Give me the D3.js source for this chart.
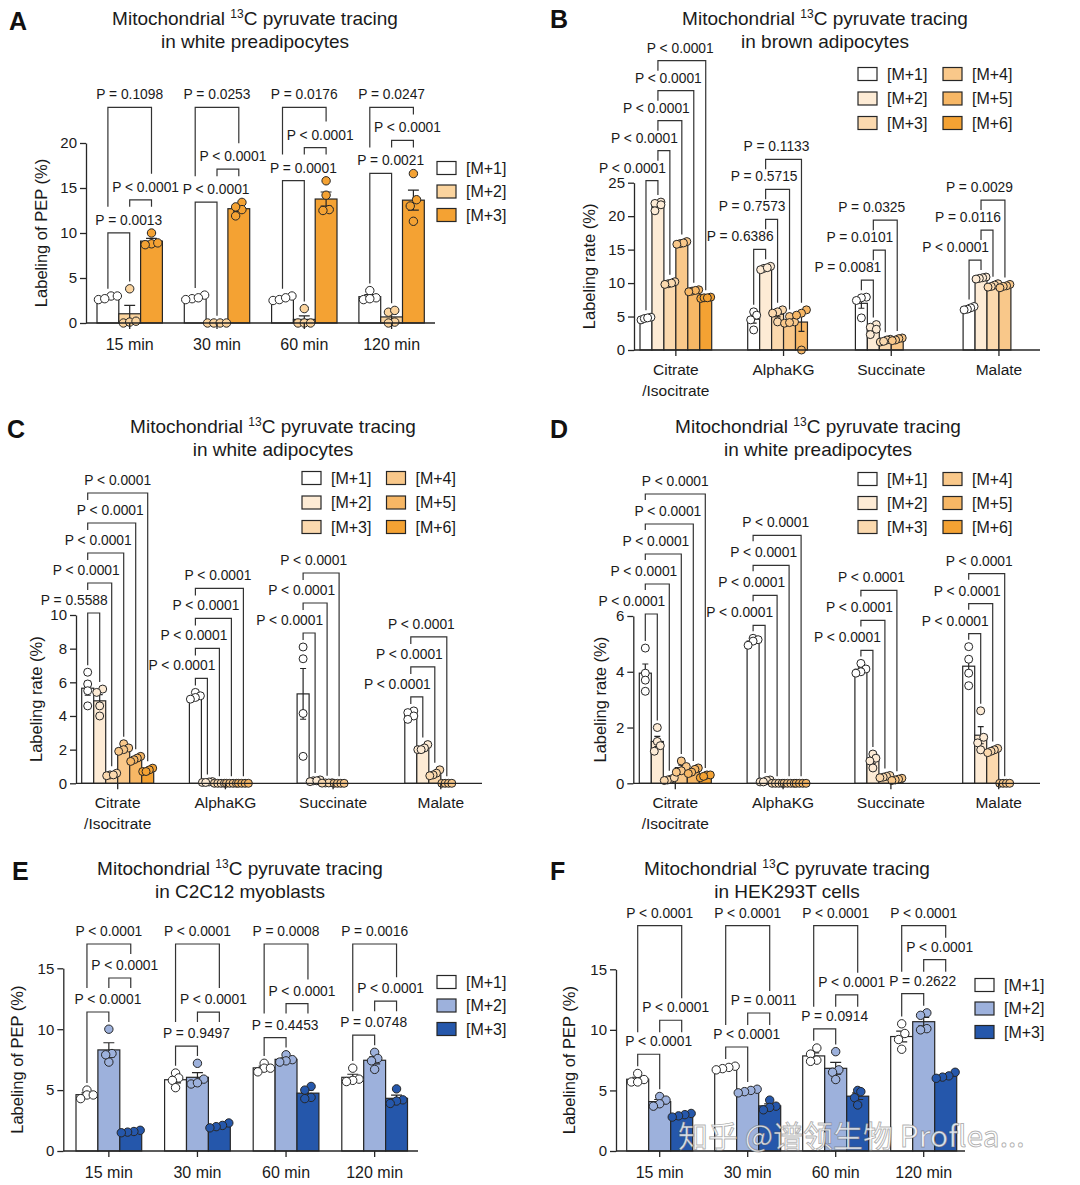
<!DOCTYPE html>
<html>
<head>
<meta charset="utf-8">
<script src="https://cdn.jsdelivr.net/npm/d3@7"></script>
<style>
  body { margin: 0; background: #fff; }
  svg text { font-family: "Liberation Sans", Arial, Helvetica, sans-serif; }
</style>
</head>
<body>
<svg id="fig" width="1080" height="1185"></svg>
<script>
// ---------- data ----------
const timePoints = ["15 min", "30 min", "60 min", "120 min"];
const metabolites = ["Citrate\n/Isocitrate", "AlphaKG", "Succinate", "Malate"];
const iso3 = ["[M+1]", "[M+2]", "[M+3]"];
const iso6 = ["[M+1]", "[M+2]", "[M+3]", "[M+4]", "[M+5]", "[M+6]"];

const ticksA = [0, 5, 10, 15, 20];
const ticksB = [0, 5, 10, 15, 20, 25];
const ticksC = [0, 2, 4, 6, 8, 10];
const ticksD = [0, 2, 4, 6];
const ticksEF = [0, 5, 10, 15];

// replicates: [group][isotopologue][replicate]
const pepWhitePre = [
  [[2.6, 3.0, 3.0, 2.7], [3.8, 0.0, 0.1, 0.2], [10.0, 8.8, 8.9, 8.7]],
  [[3.1, 2.7, 2.6, 2.8], [0, 0, 0, 0], [13.4, 12.6, 12.9, 11.9]],
  [[2.5, 3.0, 2.6, 2.8], [1.6, 0, 0, 0], [15.8, 14.2, 12.6, 12.5]],
  [[3.6, 2.8, 2.6, 2.7], [1.2, 1.4, 0.1, 0.0], [16.6, 13.7, 13.0, 11.3]]
];
const brownAdipo = [
  [[4.5, 4.9, 4.7, 4.8], [22.1, 21.9, 21.7, 20.8], [10.2, 9.9, 10.0, 9.8], [16.2, 15.9, 16.0, 15.8], [9.0, 8.8, 8.9, 8.7], [7.9, 7.7, 7.8, 7.8]],
  [[5.7, 5.2, 4.5, 3.0], [12.5, 12.2, 12.0, 12.3], [6.0, 5.7, 5.5, 4.2], [5.0, 4.2, 4.0, 4.1], [6.0, 5.5, 5.2, 0.0]],
  [[7.9, 7.8, 7.4, 4.8], [3.8, 3.4, 3.1, 2.3], [1.6, 1.5, 1.2, 1.3], [1.8, 1.7, 1.5, 1.4]],
  [[6.5, 6.3, 6.1, 6.0], [10.9, 10.8, 10.7, 10.6], [9.9, 9.7, 9.5, 9.4], [9.8, 9.6, 9.5, 9.3]]
];
const whiteAdipo = [
  [[6.6, 5.9, 5.5, 4.6], [5.6, 5.4, 4.6, 4.0], [0.6, 0.5, 0.45, 0.5], [2.35, 2.1, 2.0, 1.9], [1.6, 1.5, 1.4, 1.3], [0.9, 0.8, 0.7, 0.7]],
  [[5.4, 5.2, 5.1, 5.0], [0.1, 0.08, 0.05, 0.05], [0, 0, 0, 0], [0, 0, 0, 0], [0, 0, 0, 0]],
  [[8.1, 7.4, 4.15, 1.6], [0.2, 0.15, 0.1, 0.15], [0.03, 0.02, 0.02, 0.01], [0, 0, 0, 0]],
  [[4.3, 4.2, 4.0, 3.8], [2.3, 2.1, 2.0, 2.0], [0.8, 0.6, 0.5, 0.45], [0, 0, 0, 0]]
];
const whitePreTca = [
  [[4.85, 3.95, 3.7, 3.3], [2.0, 1.5, 1.35, 1.15], [0.15, 0.12, 0.1, 0.2], [0.8, 0.6, 0.45, 0.4], [0.55, 0.5, 0.4, 0.35], [0.3, 0.3, 0.2, 0.25]],
  [[5.2, 5.15, 5.1, 4.95], [0.12, 0.1, 0.05, 0.05], [0, 0, 0, 0], [0, 0, 0, 0], [0, 0, 0, 0]],
  [[4.3, 4.1, 4.0, 3.95], [1.05, 0.9, 0.8, 0.55], [0.28, 0.25, 0.22, 0.2], [0.18, 0.15, 0.12, 0.1]],
  [[4.9, 4.45, 3.95, 3.5], [2.6, 1.65, 1.45, 1.2], [1.25, 1.2, 1.15, 1.1], [0, 0, 0, 0]]
];
const pepC2C12 = [
  [[5.0, 4.6, 4.3, 4.6], [10.0, 8.0, 7.3, 7.9], [1.7, 1.6, 1.55, 1.5]],
  [[6.4, 6.0, 5.8, 5.2], [7.2, 5.9, 5.5, 5.6], [2.3, 2.1, 2.0, 1.9]],
  [[7.2, 6.8, 6.5, 6.8], [7.9, 7.5, 7.4, 7.3], [5.3, 5.0, 4.4, 4.3]],
  [[6.8, 5.9, 5.8, 5.7], [8.1, 7.6, 7.4, 6.7], [5.1, 4.2, 4.1, 3.9]]
];
const pepHEK = [
  [[6.4, 5.9, 5.7, 5.7], [4.5, 4.2, 3.9, 3.7], [3.1, 3.0, 2.9, 2.8]],
  [[7.0, 6.9, 6.8, 6.7], [5.1, 5.0, 4.9, 4.8], [4.2, 3.7, 3.6, 3.4]],
  [[8.5, 8.0, 7.5, 7.4], [8.2, 6.7, 6.5, 5.9], [5.0, 4.9, 4.4, 3.8]],
  [[10.5, 9.7, 9.2, 8.4], [11.4, 11.2, 10.1, 10.0], [6.5, 6.2, 6.1, 6.0]]
];

// comparisons: [group][ [barA, barB, label] ], listed from the lowest bracket up
const L = "P < 0.0001";
const pvalsA = [
  [[0, 1, "P = 0.0013"], [1, 2, L], [0, 2, "P = 0.1098"]],
  [[0, 1, L], [1, 2, L], [0, 2, "P = 0.0253"]],
  [[0, 1, "P = 0.0001"], [1, 2, L], [0, 2, "P = 0.0176"]],
  [[0, 1, "P = 0.0021"], [1, 2, L], [0, 2, "P = 0.0247"]]
];
const pvalsB = [
  [[0, 1, L], [1, 2, L], [1, 3, L], [1, 4, L], [1, 5, L]],
  [[0, 1, "P = 0.6386"], [1, 2, "P = 0.7573"], [1, 3, "P = 0.5715"], [1, 4, "P = 0.1133"]],
  [[0, 1, "P = 0.0081"], [1, 2, "P = 0.0101"], [1, 3, "P = 0.0325"]],
  [[0, 1, L], [1, 2, "P = 0.0116"], [1, 3, "P = 0.0029"]]
];
const pvalsC = [
  [[0, 1, "P = 0.5588"], [0, 2, L], [0, 3, L], [0, 4, L], [0, 5, L]],
  [[0, 1, L], [0, 2, L], [0, 3, L], [0, 4, L]],
  [[0, 1, L], [0, 2, L], [0, 3, L]],
  [[0, 1, L], [0, 2, L], [0, 3, L]]
];
const pvalsD = [
  [[0, 1, L], [0, 2, L], [0, 3, L], [0, 4, L], [0, 5, L]],
  [[0, 1, L], [0, 2, L], [0, 3, L], [0, 4, L]],
  [[0, 1, L], [0, 2, L], [0, 3, L]],
  [[0, 1, L], [0, 2, L], [0, 3, L]]
];
const pvalsE = [
  [[0, 1, L], [1, 2, L], [0, 2, L]],
  [[0, 1, "P = 0.9497"], [1, 2, L], [0, 2, L]],
  [[0, 1, "P = 0.4453"], [1, 2, L], [0, 2, "P = 0.0008"]],
  [[0, 1, "P = 0.0748"], [1, 2, L], [0, 2, "P = 0.0016"]]
];
const pvalsF = [
  [[0, 1, L], [1, 2, L], [0, 2, L]],
  [[0, 1, L], [1, 2, "P = 0.0011"], [0, 2, L]],
  [[0, 1, "P = 0.0914"], [1, 2, L], [0, 2, L]],
  [[0, 1, "P = 0.2622"], [1, 2, L], [0, 2, L]]
];

// colours
const orange3 = ["#ffffff", "#fbd49e", "#f4a233"];
const orange6 = ["#ffffff", "#fdebd5", "#fbd9ae", "#f9c88a", "#f7b765", "#f4a233"];
const blue3 = ["#ffffff", "#9db1dc", "#2557ab"];
const INK = "#262626";

// ---------- layout ----------
const shift3 = [10, 5, 0];   // label nudge to the right, per bracket level (PEP panels)
const panels = [
  { letter: "A", lx: 9, ly: 30, sub: "in white preadipocytes", tx: 255, ty: 25,
    data: pepWhitePre, pv: pvalsA, cats: timePoints, series: iso3, colors: orange3, yMax: 20, ticks: ticksA,
    axisX: 86, y0: 323, yTop: 143, xEnd: 435, g0: 97, step: 87.3, slotW: 21.8, r: 4.2,
    yLabel: "Labeling of PEP (%)", yTitleOff: 39, catFs: 16, catPad: 9.5,
    leg: { x: 437, y: 168, dx: 0, dy: 23.5 }, gapData: 10, gapLabel: 15, alignTop: true, labelRight: null, shift: shift3 },
  { letter: "B", lx: 550, ly: 28, sub: "in brown adipocytes", tx: 825, ty: 25,
    data: brownAdipo, pv: pvalsB, cats: metabolites, series: iso6, colors: orange6, yMax: 25, ticks: ticksB,
    axisX: 634, y0: 350, yTop: 182.7, xEnd: 1040, g0: 640, step: 107.7, slotW: 11.95, r: 4,
    yLabel: "Labeling rate (%)", yTitleOff: 39, catFs: 15.5, catPad: 8,
    leg: { x: 858, y: 74, dx: 85, dy: 24.5 }, gapData: 13, gapLabel: 12, alignTop: false, labelRight: 8, shift: [] },
  { letter: "C", lx: 7, ly: 438, sub: "in white adipocytes", tx: 273, ty: 433,
    data: whiteAdipo, pv: pvalsC, cats: metabolites, series: iso6, colors: orange6, yMax: 10, ticks: ticksC,
    axisX: 76, y0: 783.3, yTop: 615, xEnd: 482, g0: 81.7, step: 107.7, slotW: 12, r: 4,
    yLabel: "Labeling rate (%)", yTitleOff: 34, catFs: 15.5, catPad: 8,
    leg: { x: 302, y: 478, dx: 84.5, dy: 24.5 }, gapData: 10, gapLabel: 12, alignTop: false, labelRight: 8, shift: [] },
  { letter: "D", lx: 550, ly: 438, sub: "in white preadipocytes", tx: 818, ty: 433,
    data: whitePreTca, pv: pvalsD, cats: metabolites, series: iso6, colors: orange6, yMax: 6, ticks: ticksD,
    axisX: 633.3, y0: 783.3, yTop: 616, xEnd: 1040, g0: 639.3, step: 107.8, slotW: 12, r: 4,
    yLabel: "Labeling rate (%)", yTitleOff: 27, catFs: 15.5, catPad: 8,
    leg: { x: 858, y: 479, dx: 85, dy: 24 }, gapData: 9, gapLabel: 12, alignTop: false, labelRight: 8, shift: [] },
  { letter: "E", lx: 12, ly: 880, sub: "in C2C12 myoblasts", tx: 240, ty: 875,
    data: pepC2C12, pv: pvalsE, cats: timePoints, series: iso3, colors: blue3, yMax: 15, ticks: ticksEF,
    axisX: 63.3, y0: 1151, yTop: 968.3, xEnd: 418, g0: 76, step: 88.6, slotW: 21.9, r: 4.2,
    yLabel: "Labeling of PEP (%)", yTitleOff: 40, catFs: 16, catPad: 9.5,
    leg: { x: 437, y: 982, dx: 0, dy: 23.5 }, gapData: 13, gapLabel: 16, alignTop: true, labelRight: null, shift: shift3 },
  { letter: "F", lx: 550, ly: 880, sub: "in HEK293T cells", tx: 787, ty: 875,
    data: pepHEK, pv: pvalsF, cats: timePoints, series: iso3, colors: blue3, yMax: 15, ticks: ticksEF,
    axisX: 616, y0: 1151, yTop: 969.3, xEnd: 965, g0: 626.7, step: 88, slotW: 22, r: 4.2,
    yLabel: "Labeling of PEP (%)", yTitleOff: 41, catFs: 16, catPad: 9.5,
    leg: { x: 975, y: 985, dx: 0, dy: 23.5 }, gapData: 15, gapLabel: 16, alignTop: true, labelRight: null, shift: shift3 }
];

const P_FS = 13.8;      // p-value font size
const LABEL_OFF = 8;    // line to label baseline
const CAP_H = 10;       // label cap height
const LABEL_PAD = 4;    // label clearance above things below it
const LEG_GAP = 3;

const svg = d3.select("#fig");
const measurer = svg.append("text").attr("opacity", 0);
function textW(s, fs) { measurer.attr("font-size", fs).text(s); return measurer.node().getComputedTextLength(); }

function sem(a) { return a.length > 1 ? d3.deviation(a) / Math.sqrt(a.length) : 0; }

// spread overlapping replicate points sideways
function dodge(vals, y, r, maxHalf) {
  const order = d3.range(vals.length).sort((a, b) => vals[a] - vals[b]);
  const offs = new Array(vals.length).fill(0);
  let cl = [];
  const flush = () => {
    const k = cl.length;
    if (k > 1) {
      const sp = Math.min(1.5 * r, 2 * maxHalf / (k - 1));
      cl.forEach((idx, j) => offs[idx] = (j - (k - 1) / 2) * sp);
    }
    cl = [];
  };
  order.forEach(i => {
    if (cl.length && Math.abs(y(vals[i]) - y(vals[cl[0]])) > 1.6 * r) flush();
    cl.push(i);
  });
  flush();
  return offs;
}

const hits = (o, x1, x2, t, b) => o.x1 < x2 && o.x2 > x1 && o.top < b && o.bottom > t;

function drawPanel(p) {
  const g = svg.append("g");
  const y = d3.scaleLinear().domain([0, p.yMax]).range([p.y0, p.yTop]);
  const bandW = p.slotW * p.series.length;
  const xg = d3.scaleBand().domain(p.cats)
    .range([p.g0, p.g0 + p.step * (p.cats.length - 1) + bandW])
    .paddingInner(1 - bandW / p.step).paddingOuter(0);
  const xs = d3.scaleBand().domain(p.series).range([0, bandW]);
  const bw = xs.bandwidth();

  // letter + title
  g.append("text").attr("x", p.lx).attr("y", p.ly).attr("font-size", 25).attr("font-weight", "bold")
    .attr("fill", "#111").text(p.letter);
  const t = g.append("text").attr("x", p.tx).attr("y", p.ty).attr("text-anchor", "middle")
    .attr("font-size", 19).attr("fill", "#1a1a1a");
  t.append("tspan").text("Mitochondrial ");
  t.append("tspan").attr("font-size", 12).attr("dy", -7).text("13");
  t.append("tspan").attr("dy", 7).text("C pyruvate tracing");
  g.append("text").attr("x", p.tx).attr("y", p.ty + 23).attr("text-anchor", "middle")
    .attr("font-size", 19).attr("fill", "#1a1a1a").text(p.sub);

  // bars
  const bars = [];
  p.data.forEach((grp, gi) => grp.forEach((vals, si) => {
    const m = d3.mean(vals), e = sem(vals);
    bars.push({ gi, si, vals, m, e, x: xg(p.cats[gi]) + xs(p.series[si]) });
  }));

  g.append("g").selectAll("rect").data(bars).enter().append("rect")
    .attr("x", d => d.x).attr("y", d => y(d.m))
    .attr("width", bw).attr("height", d => y(0) - y(d.m))
    .attr("fill", d => p.colors[d.si]).attr("stroke", INK).attr("stroke-width", 1.2);

  // error bars (mean ± SEM)
  const cap = bw * 0.5;
  const eb = g.append("g").attr("stroke", INK).attr("stroke-width", 1.2).attr("fill", "none");
  bars.filter(d => d.e > 0).forEach(d => {
    const cx = d.x + bw / 2, lo = y(Math.max(0, d.m - d.e)), hi = y(d.m + d.e);
    eb.append("path").attr("d", `M${cx},${lo}V${hi}M${cx - cap / 2},${hi}H${cx + cap / 2}M${cx - cap / 2},${lo}H${cx + cap / 2}`);
  });

  // replicate points
  const pts = g.append("g");
  bars.forEach(d => {
    const offs = dodge(d.vals, y, p.r, bw / 2 - 1);
    d.vals.forEach((v, i) => {
      pts.append("circle").attr("cx", d.x + bw / 2 + offs[i]).attr("cy", y(v)).attr("r", p.r)
        .attr("fill", p.colors[d.si]).attr("stroke", INK).attr("stroke-width", 1);
    });
  });

  // axes
  const yAx = g.append("g").attr("transform", `translate(${p.axisX},0)`)
    .call(d3.axisLeft(y).tickValues(p.ticks).tickFormat(d3.format("d"))
      .tickSize(6).tickSizeOuter(0).tickPadding(3));
  yAx.attr("font-family", null);
  yAx.select(".domain").attr("stroke", INK).attr("stroke-width", 1.3);
  yAx.selectAll(".tick line").attr("stroke", INK).attr("stroke-width", 1.3);
  yAx.selectAll(".tick text").attr("font-size", 15).attr("fill", "#1a1a1a");

  g.append("line").attr("x1", p.axisX).attr("x2", p.xEnd).attr("y1", p.y0).attr("y2", p.y0)
    .attr("stroke", INK).attr("stroke-width", 1.3);
  const xAx = g.append("g").attr("transform", `translate(0,${p.y0})`)
    .call(d3.axisBottom(xg).tickSize(6).tickSizeOuter(0).tickPadding(p.catPad));
  xAx.attr("font-family", null);
  xAx.select(".domain").remove();
  xAx.selectAll(".tick line").attr("stroke", INK).attr("stroke-width", 1.3);
  xAx.selectAll(".tick text").attr("font-size", p.catFs).attr("fill", "#1a1a1a")
    .each(function (d) {
      const parts = d.split("\n");
      const el = d3.select(this).text(null);
      parts.forEach((s, i) => el.append("tspan").attr("x", 0).attr("dy", i ? "1.35em" : null).text(s));
    });

  // y title
  g.append("text").attr("transform", `translate(${p.axisX - p.yTitleOff},${(p.y0 + p.yTop) / 2}) rotate(-90)`)
    .attr("text-anchor", "middle").attr("font-size", 16.5).attr("fill", "#1a1a1a").text(p.yLabel);

  // legend
  const lg = g.append("g");
  p.series.forEach((s, i) => {
    const col = Math.floor(i / 3), row = i % 3;
    const lx = p.leg.x + col * p.leg.dx, ly = p.leg.y + row * p.leg.dy;
    lg.append("rect").attr("x", lx).attr("y", ly - 6.5).attr("width", 19).attr("height", 13)
      .attr("fill", p.colors[i]).attr("stroke", INK).attr("stroke-width", 1.2);
    lg.append("text").attr("x", lx + 29).attr("y", ly + 5.8).attr("font-size", 16).attr("fill", "#1a1a1a").text(s);
  });

  // significance brackets: stacked in listed order, each just clear of what lies under it
  const obs = [{ x1: p.axisX - 30, x2: p.axisX - 2, top: p.yTop - 6, bottom: p.y0 }];
  bars.forEach(d => {
    const top = Math.min(y(d.m), y(d.m + d.e), d3.min(d.vals, v => y(v)) - p.r);
    obs.push({ x1: d.x, x2: d.x + bw, top, bottom: p.y0 });
  });
  const extra = p.gapLabel - p.gapData;
  const center = (gi, si) => xg(p.cats[gi]) + xs(p.series[si]) + bw / 2;
  const legEnd = (x, yl) => {
    let m = p.y0;
    obs.forEach(o => { if (o.x1 <= x && o.x2 >= x && o.top > yl) m = Math.min(m, o.top); });
    return m - LEG_GAP;
  };
  const br = [];
  p.pv.forEach((list, gi) => {
    let ceiling = p.y0;
    list.forEach(([a, b, label], k) => {
      const outer = k === list.length - 1;
      const x1 = center(gi, a), x2 = center(gi, b);
      const w = textW(label, P_FS);
      let r2 = (x1 + x2) / 2 + w / 2 + (p.shift[k] || 0);
      if (p.labelRight != null) r2 = Math.min(r2, x2 + p.labelRight);
      const r1 = r2 - w;
      let yl = ceiling, moved = true;
      while (moved) {
        moved = false;
        for (const o of obs) {
          if (hits(o, x1, x2, yl - 1, yl + p.gapData)) { yl = o.top - p.gapData; moved = true; }
          if (hits(o, r1 + 3, r2 - 3, yl - LABEL_OFF - CAP_H - 1, yl - LABEL_OFF + LABEL_PAD)) {
            yl = o.top - LABEL_PAD + LABEL_OFF; moved = true;
          }
        }
      }
      br.push({ x1, x2, y: yl, leg1: legEnd(x1, yl), leg2: legEnd(x2, yl), label, lc: (r1 + r2) / 2, outer });
      const labTop = yl - LABEL_OFF - CAP_H - extra;
      obs.push({ x1, x2, top: yl, bottom: yl + 1 });
      obs.push({ x1: r1 + 3, x2: r2 - 3, top: labTop, bottom: yl - LABEL_OFF + 1 });
      ceiling = labTop - p.gapData;
    });
  });
  if (p.alignTop) {
    const top = d3.min(br.filter(d => d.outer), d => d.y);
    br.filter(d => d.outer).forEach(d => d.y = top);
  }
  const bg = g.append("g");
  br.forEach(d => {
    bg.append("path").attr("d", `M${d.x1},${d.leg1}V${d.y}H${d.x2}V${d.leg2}`)
      .attr("fill", "none").attr("stroke", "#333").attr("stroke-width", 1.2);
    bg.append("text").attr("x", d.lc).attr("y", d.y - LABEL_OFF).attr("text-anchor", "middle")
      .attr("font-size", P_FS).attr("fill", "#1a1a1a").text(d.label);
  });
}

panels.forEach(drawPanel);

// watermark
svg.append("text").attr("x", 678).attr("y", 1147).attr("font-size", 30)
  .style("font-family", '"Noto Sans CJK SC", "Noto Sans", sans-serif')
  .attr("fill", "#ffffff").attr("fill-opacity", 0.85)
  .attr("stroke", "#555").attr("stroke-opacity", 0.45).attr("stroke-width", 1)
  .text("知乎 @谱领生物 Proflea...");
</script>
</body>
</html>
